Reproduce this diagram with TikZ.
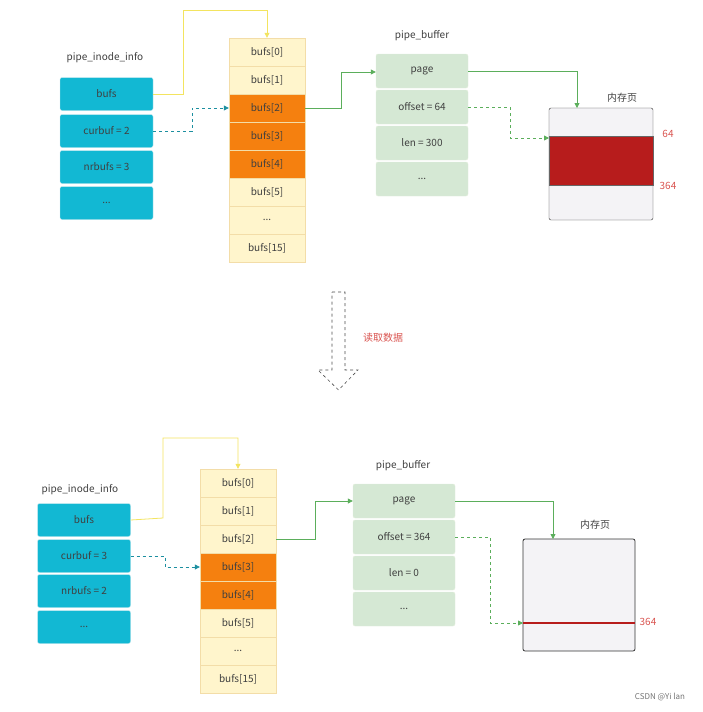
\documentclass[tikz,border=0pt]{standalone}
\usepackage{fontspec}
\setmainfont{Noto Sans CJK SC}
\usetikzlibrary{arrows.meta}
\definecolor{blu}{HTML}{12B8D3}
\definecolor{yel}{HTML}{FFF5CC}
\definecolor{yelb}{HTML}{F3DDA8}
\definecolor{org}{HTML}{F5800F}
\definecolor{grn}{HTML}{D5E8D4}
\definecolor{grnb}{HTML}{E3EEDC}
\definecolor{garr}{HTML}{5BAE5B}
\definecolor{tarr}{HTML}{1C8FA0}
\definecolor{yarr}{HTML}{F3E460}
\definecolor{redb}{HTML}{B71C1C}
\definecolor{pg}{HTML}{F4F3F6}
\definecolor{lab}{HTML}{D9534F}
\tikzset{
 every node/.style={font=\fontsize{10}{12}\selectfont, text=black!75},
 inode/.style={draw=blu!80!black!20, fill=blu, rounded corners=2pt, minimum width=93pt, minimum height=33pt, inner sep=0},
 arr/.style={draw=yelb, fill=yel, minimum width=76pt, minimum height=28pt, inner sep=0},
 arro/.style={arr, fill=org},
 pb/.style={draw=grnb, fill=grn, rounded corners=2pt, minimum width=92pt, minimum height=34pt, inner sep=0},
 tip/.style={-{Triangle[length=5pt,width=5pt]}},
 ya/.style={tip, draw=yarr, line width=0.8pt},
 ta/.style={tip, draw=tarr, dashed, line width=0.8pt},
 ga/.style={tip, draw=garr, line width=0.8pt},
 gd/.style={tip, draw=garr, dashed, line width=0.8pt},
 num/.style={text=lab},
}
\begin{document}
\begin{tikzpicture}[x=1pt,y=-1pt]
\useasboundingbox (0,0) rectangle (703,712);
% ===== top =====
\node (tl1) at (105,58) {pipe\_inode\_info};
\node[inode] (a1) at (106.5,94) {bufs};
\node[inode] (a2) at (106.5,131) {curbuf = 2};
\node[inode] (a3) at (106.5,167) {nrbufs = 3};
\node[inode] (a4) at (106.5,203) {...};
\node[arr] (b0) at (267,52) {bufs[0]};
\node[arr] (b1) at (267,80) {bufs[1]};
\node[arro] (b2) at (267,108) {bufs[2]};
\node[arro] (b3) at (267,136) {bufs[3]};
\node[arro] (b4) at (267,164) {bufs[4]};
\node[arr] (b5) at (267,192) {bufs[5]};
\node[arr] (b6) at (267,220) {...};
\node[arr] (b7) at (267,248) {bufs[15]};
\node (tl2) at (422,36) {pipe\_buffer};
\node[pb] (p1) at (422,71) {page};
\node[pb] (p2) at (422,107) {offset = 64};
\node[pb] (p3) at (422,143) {len = 300};
\node[pb] (p4) at (422,179) {...};
\node (tl3) at (622,98) {内存页};
\node[draw=black!80, fill=pg, rounded corners=2pt, minimum width=104pt, minimum height=112pt, inner sep=0] (m) at (601,164) {};
\node[fill=redb, draw=black!60, line width=0.3pt, minimum width=104pt, minimum height=49pt, inner sep=0] (mr) at (601,160.5) {};
\coordinate (m64) at (549,138);
\node[num] (n64) at (668,134) {64};
\node[num] (n364) at (668,186) {364};
\draw[ya] (a1.east) -- (183,94) -- (183,10) -- (267,10) -- (b0.north);
\draw[ta] (a2.east) -- (192,131) -- (192,108) -- (b2.west);
\draw[ga] (b2.east) -- (341,108) -- (341,72) -- (p1.west|-0,72);
\draw[ga] (p1.east) -- (577,71) -- (577,108);
\draw[gd] (p2.east) -- (510,107) -- (510,138) -- (m64);
% ===== big arrow =====
\draw[dashed, black!70, line width=0.6pt] (332,292) -- (345,292) -- (345,370) -- (358,370) -- (338.5,390) -- (318,370) -- (332,370) -- cycle;
\node[text=lab] (rd) at (383,338) {读取数据};
% ===== bottom =====
\node (bl1) at (80,490) {pipe\_inode\_info};
\node[inode] (c1) at (84,520) {bufs};
\node[inode] (c2) at (84,556) {curbuf = 3};
\node[inode] (c3) at (84,591) {nrbufs = 2};
\node[inode] (c4) at (84,627) {...};
\node[arr] (d0) at (238,483) {bufs[0]};
\node[arr] (d1) at (238,511) {bufs[1]};
\node[arr] (d2) at (238,539) {bufs[2]};
\node[arro] (d3) at (238,567) {bufs[3]};
\node[arro] (d4) at (238,595) {bufs[4]};
\node[arr] (d5) at (238,623) {bufs[5]};
\node[arr] (d6) at (238,651) {...};
\node[arr] (d7) at (238,679) {bufs[15]};
\node (bl2) at (403,466) {pipe\_buffer};
\node[pb, minimum width=102pt] (q1) at (404,501) {page};
\node[pb, minimum width=102pt] (q2) at (404,537) {offset = 364};
\node[pb, minimum width=102pt] (q3) at (404,573) {len = 0};
\node[pb, minimum width=102pt] (q4) at (404,609) {...};
\node (bl3) at (595,525) {内存页};
\node[draw=black!80, fill=pg, rounded corners=2pt, minimum width=112pt, minimum height=112pt, inner sep=0, line width=0.8pt] (n) at (579,595) {};
\coordinate (nl) at (523,623);
\coordinate (nr) at (635,623);
\draw[redb, line width=1.2pt] (nl) -- (nr);
\node[num] (b364) at (648,622) {364};
\draw[ya] (c1.east) -- (163,518) -- (163,438) -- (238,438) -- (d0.north);
\draw[ta] (c2.east) -- (165,556) -- (165,567) -- (d3.west);
\draw[ga] (d2.east) -- (315,539) -- (315,501) -- (q1.west);
\draw[ga] (q1.east) -- (553,501) -- (553,539);
\draw[gd] (q2.east) -- (490,537) -- (490,623) -- (nl);
\node[text=black!55, font=\fontsize{8}{10}\selectfont] (cs) at (660,697) {CSDN @Yi lan};
\end{tikzpicture}
\end{document}
